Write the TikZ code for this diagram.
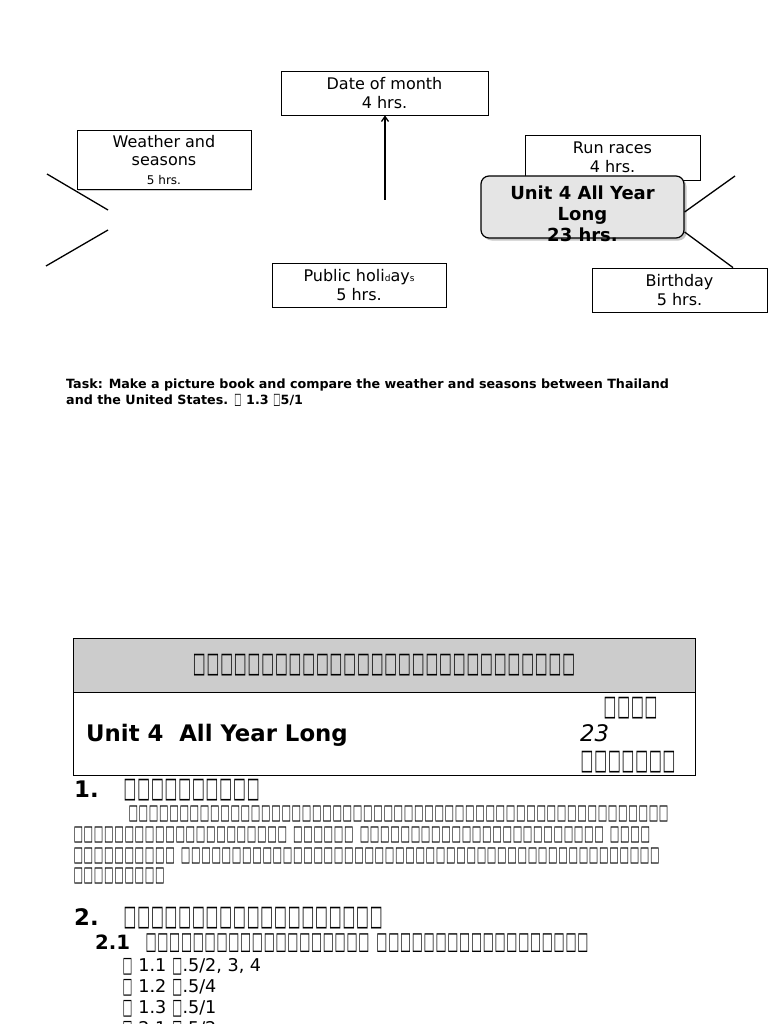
\documentclass[tikz,border=0pt]{standalone}
\usepackage{fontspec}
\setmainfont{DejaVu Sans}
\usetikzlibrary{arrows.meta,shadows}
\newcount\tfn
\newcommand\tf{\makebox[0.6em][c]{\raisebox{-0.04em}{\resizebox{0.56em}{0.8em}{□}}}}
\newcommand\tfs[1]{\tfn=#1\relax\loop\ifnum\tfn>0 \tf\advance\tfn by -1\relax\repeat}
\newcommand\fs[2]{\fontsize{#1}{#2}\selectfont}
\begin{document}
\begin{tikzpicture}[x=1pt,y=-1pt,
  box/.style={draw=black, line width=0.8pt, fill=white, align=center, inner sep=0pt,
    font=\fs{16}{18.6}, drop shadow={shadow xshift=1.2pt, shadow yshift=-1.2pt, fill=black!40}},
  conn/.style={draw=black, line width=1.3pt},
  txt/.style={anchor=base west, inner sep=0pt},
  hd/.style={txt, font=\bfseries\fs{22.8}{26.5}},
  body/.style={txt, font=\fs{17}{20.7}},
  lst/.style={txt, font=\fs{17.6}{20.5}}]
\useasboundingbox (0,0) rectangle (768,1024);
\clip (0,0) rectangle (768,1024);
% mind map
\node[box, minimum width=207pt, minimum height=44pt] (date) at (384.5,93) {Date of month\\4 hrs.};
\node[box, minimum width=174pt, minimum height=59pt] (weather) at (164,160) {Weather and\\seasons\\{\fs{12}{14}5 hrs.}};
\node[box, minimum width=175pt, minimum height=45pt] (run) at (612.5,157.5) {Run races\\4 hrs.};
\node[box, minimum width=174pt, minimum height=44pt] (pub) at (359,285) {Public holi{\fs{9}{9}d}ay{\fs{9}{9}s}\\5 hrs.};
\node[box, minimum width=175pt, minimum height=44pt] (birth) at (679.5,290) {Birthday\\5 hrs.};
\node[draw=black, line width=1.2pt, rounded corners=8pt, fill=black!10, minimum width=203pt, minimum height=62pt, inner sep=0pt,
  drop shadow={shadow xshift=2.5pt, shadow yshift=-2.5pt, fill=black!45}] (unit) at (582.5,207) {};
\node[font=\bfseries\fs{18}{21}, align=center, inner sep=0pt] (unittext) at (582.5,214) {Unit 4 All Year\\Long\\23 hrs.};
\coordinate (l1a) at (47,174); \coordinate (l1b) at (108,210);
\coordinate (l2a) at (108,230); \coordinate (l2b) at (46,266);
\coordinate (hol) at (385,200);
\coordinate (r1) at (735,176);
\draw[conn] (l1a) -- (l1b);
\draw[conn] (l2a) -- (l2b);
\draw[conn, -{Straight Barb[length=5pt,width=7pt]}] (hol) -- (hol |- date.south);
\draw[conn] ([yshift=-5pt]unit.east) -- (r1);
\draw[conn] ([yshift=-25pt]unit.east) -- ([xshift=53.5pt]birth.north);
% task
\node[anchor=north west, align=left, font=\bfseries\fs{12.7}{15.2}, inner sep=0pt] (task) at (66,379)
  {Task: Make a picture book and compare the weather and seasons between Thailand\\and the United States. \tf{} 1.3 \tf5/1};
% table
\node[draw=black, line width=1pt, fill=black!20, minimum width=622pt, minimum height=54pt, inner sep=0pt] (thead) at (384,665) {\fs{22.8}{26.5}\tfs{28}};
\node[draw=black, line width=1pt, minimum width=622pt, minimum height=83pt, inner sep=0pt] (tbody) at (384,733.5) {};
\node[hd] (unitrow) at (86,741.5) {Unit 4\ \ All Year Long};
\node[txt, font=\fs{22.8}{26.5}] (hrs1) at (603,715) {\tfs{4}};
\node[txt, font=\itshape\fs{22.8}{26.5}] (hrs2) at (580,741.5) {23};
\node[txt, font=\fs{22.8}{26.5}] (hrs3) at (580,769) {\tfs{7}};
% section 1
\node[hd] (h1) at (74,797) {\makebox[49pt][l]{1.}{\mdseries\tfs{10}}};
\node[body] (p1) at (128,819) {\tfs{53}};
\node[body] (p2) at (73,839.5) {\tfs{21} \tfs{6} \tfs{24} \tfs{4}};
\node[body] (p3) at (73,860.5) {\tfs{10} \tfs{47}};
\node[body] (p4) at (73,881) {\tfs{9}};
% section 2
\node[hd] (h2) at (74,925) {\makebox[49pt][l]{2.}{\mdseries\tfs{19}}};
\node[txt, font=\bfseries\fs{19.7}{23}] (h21) at (95,949) {\makebox[50pt][l]{2.1}{\mdseries\tfs{19} \tfs{18}}};
\node[lst] (i1) at (122,971.5) {\tf{} 1.1 \tf.5/2, 3, 4};
\node[lst] (i2) at (122,992.5) {\tf{} 1.2 \tf.5/4};
\node[lst] (i3) at (122,1013.5) {\tf{} 1.3 \tf.5/1};
\node[lst] (i4) at (122,1034.5) {\tf{} 2.1 \tf.5/2};
\end{tikzpicture}
\end{document}
